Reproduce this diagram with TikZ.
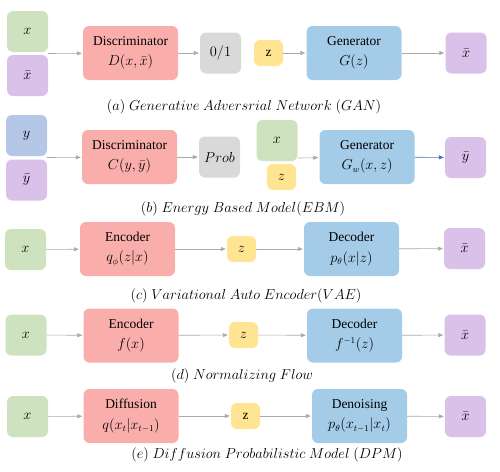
\documentclass[tikz,border=0pt]{standalone}
\usepackage{fontspec}
\setmainfont{Liberation Serif}
\usetikzlibrary{arrows.meta}
\definecolor{boxgreen}{RGB}{206,226,192}
\definecolor{boxpurple}{RGB}{217,193,233}
\definecolor{boxred}{RGB}{249,174,172}
\definecolor{boxblue}{RGB}{164,203,232}
\definecolor{boxsky}{RGB}{180,199,231}
\definecolor{boxgray}{RGB}{217,217,217}
\definecolor{boxyellow}{RGB}{255,228,145}
\definecolor{linegray}{RGB}{170,170,170}
\definecolor{lineblue}{RGB}{68,114,196}
\begin{document}
\begin{tikzpicture}[x=1pt,y=-1pt,
    blk/.style={rounded corners=6pt, inner sep=0pt, align=center, font=\fontsize{13.5}{20.5}\selectfont},
    big/.style={blk, minimum width=95pt, minimum height=54pt},
    small/.style={blk, minimum width=41pt, minimum height=41pt},
    tiny/.style={blk, minimum width=29pt, minimum height=26pt, fill=boxyellow},
    flow/.style={-{Triangle[length=5pt,width=4pt]}, linegray, line width=0.6pt, shorten >=1pt},
    subcap/.style={font=\fontsize{15}{17}\selectfont}]
    \useasboundingbox (0,0) rectangle (500,471);
    % (a) GAN
    \node [small, fill=boxgreen] (xa) at (27.5,31.5) {$x$};
    \node [small, fill=boxpurple] (xba) at (27.5,75.5) {$\bar{x}$};
    \coordinate (ina) at (48,53.5);
    \node [big, fill=boxred] (disa) at (130.5,53) {Discriminator\\$D(x,\bar{x})$};
    \node [small, fill=boxgray] (outa) at (220.5,53) {$0/1$};
    \node [tiny] (za) at (268.5,53) {z};
    \node [big, fill=boxblue] (gena) at (354,53) {Generator\\$G(z)$};
    \node [small, fill=boxpurple] (xoa) at (466,53) {$\bar{x}$};
    \draw [flow] (ina) -- (disa);
    \draw [flow] (disa) -- (outa);
    \draw [flow] (za) -- (gena);
    \draw [flow] (gena) -- (xoa);
    \node [subcap] (capa) at (244,107) {$(a)\ Generative\ Adversrial\ Network\ (GAN)$};
    % (b) EBM
    \node [small, fill=boxsky] (yb) at (26.5,135.5) {$y$};
    \node [small, fill=boxpurple] (ybb) at (26.5,180) {$\bar{y}$};
    \coordinate (inb) at (47,157.5);
    \node [big, fill=boxred] (disb) at (129.5,157) {Discriminator\\$C(y,\bar{y})$};
    \node [small, fill=boxgray] (outb) at (219.5,157) {$Prob$};
    \node [small, fill=boxgreen] (xb) at (277,140.5) {$x$};
    \node [tiny] (zb) at (281.5,177) {$z$};
    \coordinate (gin) at (298,158);
    \node [big, fill=boxblue] (genb) at (367,157) {Generator\\$G_w(x,z)$};
    \node [small, fill=boxpurple] (yob) at (465.5,157.5) {$\bar{y}$};
    \draw [flow] (inb) -- (disb);
    \draw [flow] (disb) -- (outb);
    \draw [flow] (gin) -- (genb);
    \draw [flow, lineblue] (genb) -- (yob);
    \node [subcap] (capb) at (243,209) {$(b)\ Energy\ Based\ Model(EBM)$};
    % (c) VAE
    \node [small, fill=boxgreen] (xc) at (25.5,249.5) {$x$};
    \node [big, fill=boxred] (encc) at (127.5,249) {Encoder\\$q_\phi(z|x)$};
    \node [tiny] (zc) at (241.5,249) {$z$};
    \node [big, fill=boxblue] (decc) at (351.5,249) {Decoder\\$p_\theta(x|z)$};
    \node [small, fill=boxpurple] (xoc) at (464.5,248.5) {$\bar{x}$};
    \draw [flow] (xc) -- (encc);
    \draw [flow] (encc) -- (zc);
    \draw [flow] (zc) -- (decc);
    \draw [flow] (decc) -- (xoc);
    \node [subcap] (capc) at (246,296) {$(c)\ Variational\ Auto\ Encoder(VAE)$};
    % (d) normalizing flow
    \node [small, fill=boxgreen] (xd) at (26,335) {$x$};
    \node [big, fill=boxred] (encd) at (131,335.5) {Encoder\\$f(x)$};
    \node [tiny] (zd) at (243.5,335) {$z$};
    \node [big, fill=boxblue] (decd) at (354.5,335.5) {Decoder\\$f^{-1}(z)$};
    \node [small, fill=boxpurple] (xod) at (465,335) {$\bar{x}$};
    \draw [flow] (xd) -- (encd);
    \draw [flow] (encd) -- (zd);
    \draw [flow] (zd) -- (decd);
    \draw [flow] (decd) -- (xod);
    \node [subcap] (capd) at (242,376) {$(d)\ Normalizing\ Flow$};
    % (e) DPM
    \node [small, fill=boxgreen] (xe) at (27.5,416.5) {$x$};
    \node [big, fill=boxred] (dife) at (131,416) {Diffusion\\$q(x_t|x_{t-1})$};
    \node [tiny] (ze) at (245.5,416) {z};
    \node [big, fill=boxblue] (dene) at (359.5,416) {Denoising\\$p_\theta(x_{t-1}|x_t)$};
    \node [small, fill=boxpurple] (xoe) at (465.5,416.5) {$\bar{x}$};
    \draw [flow] (xe) -- (dife);
    \draw [flow] (dife) -- (ze);
    \draw [flow] (ze) -- (dene);
    \draw [flow] (dene) -- (xoe);
    \node [subcap] (cape) at (267,455) {$(e)\ Diffusion\ Probabilistic\ Model\ (DPM)$};
\end{tikzpicture}
\end{document}
